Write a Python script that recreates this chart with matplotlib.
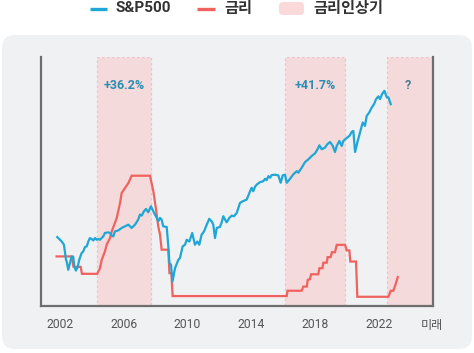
import matplotlib
matplotlib.use("Agg")
import matplotlib.pyplot as plt
from matplotlib.patches import FancyBboxPatch
from matplotlib.lines import Line2D
from matplotlib.transforms import IdentityTransform

plt.rcParams['font.family'] = ['Roboto', 'Noto Sans CJK KR', 'DejaVu Sans']

# ---------------- data ----------------
sp_t = [2001.83, 2002.11, 2002.25, 2002.38, 2002.42, 2002.52, 2002.63, 2002.73, 2002.83, 2002.90,
        2003.00, 2003.11, 2003.21, 2003.36, 2003.46, 2003.57, 2003.68, 2003.78, 2003.88, 2003.99,
        2004.09, 2004.20, 2004.30, 2004.40, 2004.51, 2004.62, 2004.72, 2004.82, 2005.03, 2005.14,
        2005.25, 2005.35, 2005.45, 2005.66, 2005.87, 2006.08, 2006.29, 2006.50, 2006.71, 2006.91,
        2007.02, 2007.13, 2007.27, 2007.40, 2007.54, 2007.71, 2007.86, 2008.07, 2008.17, 2008.28,
        2008.38, 2008.48, 2008.70, 2008.80, 2008.87, 2008.97, 2009.06, 2009.22, 2009.43, 2009.53,
        2009.70, 2009.85, 2009.95, 2010.12, 2010.30, 2010.47, 2010.62, 2010.74, 2010.89, 2011.04,
        2011.21, 2011.37, 2011.52, 2011.62, 2011.73, 2011.84, 2012.04, 2012.15, 2012.25, 2012.36,
        2012.46, 2012.63, 2012.78, 2012.92, 2013.09, 2013.30, 2013.47, 2013.72, 2013.93, 2014.03,
        2014.13, 2014.24, 2014.35, 2014.55, 2014.76, 2014.87, 2014.97, 2015.08, 2015.18, 2015.29,
        2015.50, 2015.70, 2015.85, 2015.98, 2016.12, 2016.23, 2016.44, 2016.64, 2016.86, 2016.96,
        2017.17, 2017.38, 2017.59, 2017.80, 2018.01, 2018.16, 2018.28, 2018.43, 2018.63, 2018.78,
        2018.95, 2019.12, 2019.26, 2019.37, 2019.53, 2019.68, 2019.78, 2019.95, 2020.16, 2020.31,
        2020.41, 2020.52, 2020.66, 2020.83, 2021.00, 2021.14, 2021.25, 2021.41, 2021.57, 2021.71,
        2021.84, 2021.98, 2022.09, 2022.21, 2022.36, 2022.51, 2022.61, 2022.76]
sp500 = [1145, 1096, 1062, 916, 901, 830, 887, 946, 946, 857,
         824, 852, 916, 979, 994, 1038, 1045, 1096, 1134, 1123,
         1107, 1134, 1115, 1123, 1115, 1134, 1153, 1192, 1199, 1192,
         1160, 1153, 1210, 1222, 1252, 1272, 1293, 1252, 1293, 1359,
         1428, 1413, 1474, 1509, 1460, 1549, 1474, 1382, 1336, 1382,
         1359, 1272, 1264, 1045, 889, 872, 739, 844, 916, 932,
         1045, 1062, 1115, 1096, 1192, 1062, 1096, 1062, 1172, 1210,
         1293, 1369, 1336, 1293, 1134, 1252, 1264, 1323, 1405, 1359,
         1323, 1382, 1413, 1404, 1450, 1601, 1627, 1655, 1795, 1857,
         1795, 1876, 1917, 1962, 1981, 2029, 2001, 2082, 2049, 2104,
         2112, 2098, 1951, 2098, 2112, 1951, 2029, 2118, 2187, 2153,
         2262, 2390, 2455, 2538, 2605, 2709, 2818, 2709, 2755, 2848,
         2911, 2800, 2638, 2800, 2940, 2800, 2940, 3011, 3089, 3213,
         3245, 2638, 2894, 3195, 3525, 3409, 3761, 3891, 4087, 4220,
         4435, 4555, 4435, 4657, 4812, 4511, 4511, 4220]

rate_t = [2001.79, 2002.73, 2002.85, 2003.30, 2003.38, 2004.34, 2004.51, 2004.62, 2004.82, 2004.93,
          2005.14, 2005.25, 2005.56, 2005.77, 2005.87, 2006.08, 2006.29, 2006.50, 2007.65, 2007.86,
          2008.03, 2008.17, 2008.28, 2008.38, 2008.80, 2008.87, 2008.99, 2009.07, 2016.23, 2016.28,
          2017.17, 2017.27, 2017.49, 2017.55, 2017.69, 2017.76, 2018.21, 2018.28, 2018.47, 2018.53,
          2018.74, 2018.80, 2018.99, 2019.06, 2019.26, 2019.37, 2019.89, 2020.00, 2020.16, 2020.22,
          2020.58, 2020.66, 2022.61, 2022.76, 2022.92, 2023.05, 2023.20]
rate = [1.77, 1.77, 1.32, 1.32, 1.02, 1.02, 1.26, 1.62, 1.98, 2.27,
        2.56, 2.85, 3.42, 4.07, 4.50, 4.72, 4.93, 5.25, 5.25, 4.58,
        3.79, 3.06, 2.71, 2.06, 2.06, 1.05, 1.05, 0.06, 0.06, 0.29,
        0.29, 0.47, 0.47, 0.76, 0.79, 1.00, 1.00, 1.26, 1.26, 1.50,
        1.50, 1.74, 1.74, 1.95, 1.95, 2.27, 2.27, 2.03, 2.03, 1.55,
        1.55, 0.03, 0.03, 0.29, 0.29, 0.54, 0.88]

hike_periods = [(2004.32, 2007.71), (2016.14, 2019.89), (2022.53, 2025.41)]
hike_labels = ["+36.2%", "+41.7%", "?"]

tick_pos = [2002, 2006, 2010, 2014, 2018, 2022, 2025.35]
tick_labels = ["2002", "2006", "2010", "2014", "2018", "2022", "미래"]

legend_labels = ["S&P500", "금리", "금리인상기"]

# ---------------- styling ----------------
W, H = 474, 353
fig = plt.figure(figsize=(W / 100, H / 100), dpi=100)
fig.patch.set_facecolor('white')
ident = IdentityTransform()

card = FancyBboxPatch((2, 4), 470, 314, boxstyle="round,pad=0,rounding_size=13",
                      transform=ident, facecolor='#f0f1f3', edgecolor='none', zorder=-10)
fig.patches.append(card)

ax = fig.add_axes([41 / W, (H - 306) / H, (433 - 41) / W, (306 - 57) / H])
ax.set_facecolor('none')
ax2 = ax.twinx()
ax2.set_facecolor('none')

blue = '#1ea7d6'
red = '#f0625e'
pink = '#f5dadb'

for (a, b) in hike_periods:
    ax.axvspan(a, b, facecolor=pink, edgecolor='#eec3c5', linestyle=(0, (2, 2)),
               linewidth=0.9, zorder=0)

ax.plot(rate_t, rate, color=red, lw=1.6, zorder=3, solid_joinstyle='miter')
ax2.plot(sp_t, sp500, color=blue, lw=1.6, zorder=3)

ax.set_xlim(2000.81, 2025.41)
ax.set_ylim(-0.368, 10.37)
ax2.set_yscale('log')
ax2.set_ylim(582, 6704)

for (a, b), lab in zip(hike_periods, hike_labels):
    xc = (a + b) / 2 if lab != "?" else 2023.83
    col = '#2a8db3' if lab != "?" else '#4f7894'
    ax.text(xc, 9.15, lab, ha='center', va='center', fontsize=9, fontweight='bold', color=col,
            family=['Roboto', 'Noto Sans CJK KR'])

for a in (ax, ax2):
    a.spines['top'].set_visible(False)
    a.set_yticks([])
    a.yaxis.set_minor_locator(matplotlib.ticker.NullLocator())
ax2.spines['left'].set_visible(False)
ax2.spines['bottom'].set_visible(False)
for s in ('left', 'bottom'):
    ax.spines[s].set_color('#6e6e6e')
    ax.spines[s].set_linewidth(1.6)
ax.spines['right'].set_visible(False)
ax2.spines['right'].set_color('#6e6e6e')
ax2.spines['right'].set_linewidth(1.6)

ax.set_xticks(tick_pos)
ax.set_xticklabels(tick_labels)
ax.tick_params(axis='x', length=0, pad=9, labelsize=8.7, labelcolor='#555555')

# ---- legend (drawn manually in pixel positions) ----
def fy(y):
    return (H - y) / H

ly = 8.5
fig.add_artist(Line2D([90 / W, 107 / W], [fy(ly), fy(ly)], color=blue, lw=2.4,
                      solid_capstyle='butt'))
fig.add_artist(Line2D([197 / W, 215 / W], [fy(ly), fy(ly)], color=red, lw=2.4,
                      solid_capstyle='butt'))
lp = FancyBboxPatch((279, H - 15), 25, 13, boxstyle="round,pad=0,rounding_size=4",
                    transform=ident, facecolor='#fbd9da', edgecolor='none')
fig.patches.append(lp)
for xpix, lab in zip([115, 224, 313], legend_labels):
    fig.text(xpix / W, fy(ly), lab, ha='left', va='center', fontsize=11, fontweight='bold',
             color='#333333', family=['Roboto', 'Noto Sans CJK KR'])

fig.savefig('out.png', dpi=100, facecolor='white')
